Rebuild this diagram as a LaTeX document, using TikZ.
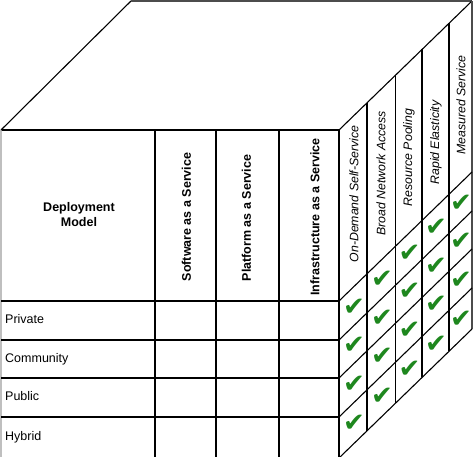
\documentclass[tikz,border=0pt]{standalone}
\usepackage{fontspec}
\setmainfont{Liberation Sans}
\newfontfamily\symfont{DejaVu Sans}
\definecolor{chk}{RGB}{30,135,30}
\begin{document}
\begin{tikzpicture}[x=1pt,y=-1pt,
  ln/.style={line width=1.1pt,black},
  edge/.style={line width=2pt,black!70},
  rowlab/.style={anchor=west,inner sep=0pt,font=\fontsize{12.5}{14}\selectfont,text height=9pt,text depth=2.5pt},
  colhead/.style={rotate=90,inner sep=0pt,font=\fontsize{12.5}{14}\selectfont\bfseries},
  sidehead/.style={rotate=90,inner sep=0pt,font=\fontsize{12.3}{14}\selectfont\itshape},
  checkmark/.style={inner sep=0pt,text=chk,font=\symfont\fontsize{26}{26}\selectfont}]
\useasboundingbox (0,0) rectangle (474,457);
\clip (0,0) rectangle (474,457);
% front face
\draw[ln] (1,130) -- (339,130) -- (339,458);
\draw[line width=1.5pt,black!25] (1,130) -- (1,458);
\foreach \y in {301,340,378,417} \draw[ln] (1,\y) -- (339,\y);
\foreach \x in {155,216,279} \draw[ln] (\x,130) -- (\x,458);
% top face
\draw[ln] (1,130) -- (131,1);
\draw[edge] (131,1) -- (472,1);
\draw[ln] (339,130) -- (472,1);
% side face
\draw[edge] (472,1) -- (472,329);
\foreach \y in {301,340,378,417,458} \draw[ln] (339,\y) -- (472,{\y-129});
\foreach \x in {367,395.5,422,449} \draw[ln] (\x,{130-0.97*(\x-339)}) -- (\x,{458-0.97*(\x-339)});
% texts
\node[align=center,inner sep=0pt,font=\fontsize{12.5}{15}\selectfont\bfseries] (dm) at (79,214.5) {Deployment\\Model};
\node[colhead] (saas) at (186.5,217) {Software as a Service};
\node[colhead] (paas) at (246.5,218) {Platform as a Service};
\node[colhead] (iaas) at (315,217) {Infrastructure as a Service};
\node[rowlab] (priv) at (5,320.5) {Private};
\node[rowlab] (comm) at (5,359) {Community};
\node[rowlab] (pub) at (5,397.5) {Public};
\node[rowlab] (hyb) at (5,437) {Hybrid};
\node[sidehead] (ods) at (354,194) {On-Demand Self-Service};
\node[sidehead] (bna) at (381,173.5) {Broad Network Access};
\node[sidehead] (rp) at (409,157.5) {Resource Pooling};
\node[sidehead] (re) at (436,142.5) {Rapid Elasticity};
\node[sidehead] (ms) at (461,105) {Measured Service};
% checks
\foreach \c/\xc in {1/354,2/382,3/409.5,4/436,5/461}
  \foreach \r/\yc in {1/321.5,2/360,3/398.5,4/438}
    \node[checkmark] (ck\c\r) at (\xc,{\yc-0.97*(\xc-339)}) {✔};
\end{tikzpicture}
\end{document}
